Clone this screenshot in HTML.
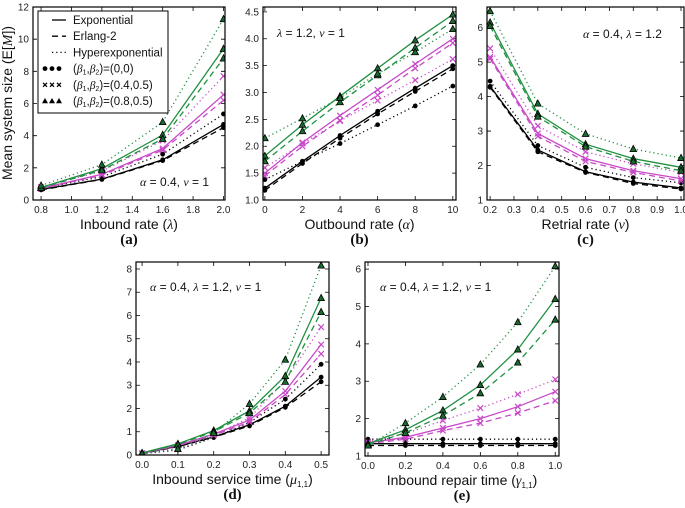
<!DOCTYPE html>
<html><head><meta charset="utf-8"><style>
html,body{margin:0;padding:0;background:#fff;}
svg{display:block;font-family:"Liberation Sans",sans-serif;}
</style></head><body>
<svg id="fig" width="685" height="508" viewBox="0 0 685 508" xmlns="http://www.w3.org/2000/svg"></svg>
<script>
// ---- data (rows: beta configs (0,0), (0.4,0.5), (0.8,0.5)) ----
const aX = [0.8, 1.2, 1.6, 2.0];
const aExp = [[0.65,1.3,2.5,4.7],[0.72,1.6,3.2,6.55],[0.78,1.95,4.05,9.4]];
const aErl = [[0.63,1.28,2.45,4.5],[0.7,1.55,3.1,6.2],[0.75,1.85,3.8,8.8]];
const aHyp = [[0.72,1.45,2.85,5.35],[0.8,1.8,3.7,7.7],[0.9,2.2,4.85,11.25]];
const bX = [0, 2, 4, 6, 8, 10];
const bExp = [[1.22,1.72,2.2,2.65,3.08,3.5],[1.5,2.07,2.57,3.05,3.53,4.0],[1.82,2.4,2.93,3.45,3.97,4.45]];
const bErl = [[1.18,1.68,2.15,2.6,3.02,3.44],[1.45,2.0,2.48,2.95,3.45,3.92],[1.72,2.28,2.82,3.32,3.83,4.33]];
const bHyp = [[1.38,1.72,2.05,2.4,2.75,3.12],[1.6,2.05,2.47,2.85,3.23,3.62],[2.15,2.52,2.9,3.35,3.75,4.18]];
const cX = [0.2, 0.4, 0.6, 0.8, 1.0];
const cExp = [[4.3,2.45,1.82,1.52,1.35],[5.15,2.93,2.2,1.85,1.62],[6.15,3.5,2.62,2.2,1.95]];
const cErl = [[4.27,2.4,1.8,1.48,1.32],[5.1,2.85,2.12,1.8,1.55],[6.05,3.42,2.55,2.12,1.85]];
const cHyp = [[4.45,2.58,1.95,1.65,1.5],[5.4,3.15,2.4,2.05,1.8],[6.48,3.8,2.92,2.48,2.22]];
const dX = [0, 0.1, 0.2, 0.3, 0.4, 0.5];
const dExp = [[0.08,0.38,0.78,1.3,2.1,3.35],[0.08,0.42,0.9,1.5,2.75,4.75],[0.09,0.48,1.05,1.9,3.4,6.75]];
const dErl = [[0.06,0.36,0.76,1.25,2.05,3.15],[0.07,0.4,0.85,1.42,2.6,4.35],[0.08,0.45,1.0,1.8,3.15,6.15]];
const dHyp = [[0.05,0.22,0.75,1.4,2.4,3.9],[0.06,0.25,0.85,1.6,3.2,5.5],[0.06,0.26,0.95,2.2,4.1,8.15]];
const eX = [0, 0.2, 0.4, 0.6, 0.8, 1.0];
const eExp = [[1.33,1.33,1.33,1.33,1.33,1.33],[1.35,1.5,1.75,2.0,2.32,2.72],[1.33,1.7,2.22,2.9,3.85,5.2]];
const eErl = [[1.28,1.28,1.28,1.28,1.28,1.28],[1.33,1.45,1.68,1.88,2.15,2.48],[1.3,1.62,2.08,2.68,3.5,4.65]];
const eHyp = [[1.45,1.45,1.45,1.45,1.45,1.45],[1.38,1.6,1.95,2.28,2.65,3.05],[1.28,1.88,2.58,3.45,4.58,6.08]];
const aXTicks = [0.8,1.0,1.2,1.4,1.6,1.8,2.0], aYTicks = [0,2,4,6,8,10,12];
const bXTicks = [0,2,4,6,8,10], bYTicks = [1.0,1.5,2.0,2.5,3.0,3.5,4.0,4.5];
const cXTicks = [0.2,0.3,0.4,0.5,0.6,0.7,0.8,0.9,1.0], cYTicks = [1,2,3,4,5,6];
const dXTicks = [0.0,0.1,0.2,0.3,0.4,0.5], dYTicks = [0,1,2,3,4,5,6,7,8];
const eXTicks = [0.0,0.2,0.4,0.6,0.8,1.0], eYTicks = [1,2,3,4,5,6];

const NS = "http://www.w3.org/2000/svg";
const svg = document.getElementById('fig');
const COLORS = ['#000000', '#c848c8', '#1f9040'];
const DASH = {exp: null, erl: '6,4', hyp: '1.2,3'};
function mk(tag, attrs, parent) {
  const el = document.createElementNS(NS, tag);
  for (const k in attrs) el.setAttribute(k, attrs[k]);
  (parent || svg).appendChild(el);
  return el;
}
function panel(id, box, xd, yd, xs, exp, erl, hyp, xt, yt, xdec, ydec, xlabel, cap, note, noteX, noteY) {
  const g = mk('g', {});
  
  
  const sx = v => box.L + (v - xd[0]) / (xd[1] - xd[0]) * (box.R - box.L);
  const sy = v => box.B - (v - yd[0]) / (yd[1] - yd[0]) * (box.B - box.T);
  xt.forEach(t => {
    const x = sx(t);
    const tk = mk('path', {d: `M${x},${box.B}v-4M${x},${box.T}v4`, stroke: '#000', 'stroke-width': 0.8}, g);
    
    
    const lb = mk('text', {x: x, y: box.B + 13, 'font-size': 10, 'text-anchor': 'middle', fill: '#222'}, g);
    lb.textContent = t.toFixed(xdec);
    
    
  });
  yt.forEach(t => {
    const y = sy(t);
    const tk = mk('path', {d: `M${box.L},${y}h4M${box.R},${y}h-4`, stroke: '#000', 'stroke-width': 0.8}, g);
    
    
    const lb = mk('text', {x: box.L - 4, y: y + 3.5, 'font-size': 10, 'text-anchor': 'end', fill: '#222'}, g);
    lb.textContent = t.toFixed(ydec);
    
    
  });
  const clipId = 'clip' + id;
  const cp = mk('clipPath', {id: clipId}, g);
  mk('rect', {x: box.L, y: box.T, width: box.R - box.L, height: box.B - box.T}, cp);
  const plot = mk('g', {'clip-path': `url(#${clipId})`}, g);
  const sets = [['exp', exp], ['erl', erl], ['hyp', hyp]];
  for (let c = 0; c < 3; c++) {
    sets.forEach(([k, arr]) => {
      const d = arr[c].map((v, i) => (i ? 'L' : 'M') + sx(xs[i]).toFixed(1) + ',' + sy(v).toFixed(1)).join('');
      const a = {d: d, fill: 'none', stroke: COLORS[c], 'stroke-width': 1.3};
      if (DASH[k]) a['stroke-dasharray'] = DASH[k];
      const p = mk('path', a, plot);
      
      
      arr[c].forEach((v, i) => {
        const x = sx(xs[i]), y = sy(v);
        let m;
        if (c === 0) m = mk('circle', {cx: x, cy: y, r: 2.4, fill: '#000'}, plot);
        else if (c === 1) m = mk('path', {d: `M${x-2.8},${y-2.8}L${x+2.8},${y+2.8}M${x-2.8},${y+2.8}L${x+2.8},${y-2.8}`, stroke: COLORS[1], 'stroke-width': 1.2}, plot);
        else m = mk('path', {d: `M${x},${y-3.6}L${x+3.3},${y+2.6}L${x-3.3},${y+2.6}Z`, fill: '#1a6a30', stroke: '#000', 'stroke-width': 0.8}, plot);
        
        
      });
    });
  }
  const fr = mk('rect', {x: box.L, y: box.T, width: box.R - box.L, height: box.B - box.T, fill: 'none', stroke: '#000', 'stroke-width': 1.2}, g);
  
  
  const xl = mk('text', {x: (box.L + box.R) / 2, y: box.B + 29, 'font-size': 14, 'text-anchor': 'middle', fill: '#111'}, g);
  xl.innerHTML = xlabel;
  
  
  const cp2 = mk('text', {x: (box.L + box.R) / 2, y: box.B + 44, 'font-size': 15, 'font-weight': 'bold', 'text-anchor': 'middle', 'font-family': '"Liberation Serif",serif', fill: '#111'}, g);
  cp2.textContent = cap;
  
  
  const nt = mk('text', {x: noteX, y: noteY, 'font-size': 12, fill: '#111'}, g);
  nt.innerHTML = note;
  
  
}
const G = s => `<tspan font-family="Liberation Serif,serif" font-style="italic">${s}</tspan>`;
panel('a', {L:33,R:225,T:7,B:200}, [0.747,2.01], [0,12], aX, aExp, aErl, aHyp, aXTicks, aYTicks, 1, 0,
  `Inbound rate (${G('λ')})`, '(a)', `${G('α')} = 0.4, ${G('ν')} = 1`, 140, 186);
panel('b', {L:263,R:456,T:7,B:200}, [-0.1,10.17], [1,4.59], bX, bExp, bErl, bHyp, bXTicks, bYTicks, 0, 1,
  `Outbound rate (${G('α')})`, '(b)', `${G('λ')} = 1.2, ${G('ν')} = 1`, 277, 37);
panel('c', {L:487,R:684,T:7,B:200}, [0.187,1.0125], [1,6.6], cX, cExp, cErl, cHyp, cXTicks, cYTicks, 1, 0,
  `Retrial rate (${G('ν')})`, '(c)', `${G('α')} = 0.4, ${G('λ')} = 1.2`, 583, 38);
panel('d', {L:136,R:329,T:262,B:455}, [-0.017,0.522], [0,8.3], dX, dExp, dErl, dHyp, dXTicks, dYTicks, 1, 0,
  `Inbound service time (${G('μ')}<tspan font-size="8" dy="3">1,1</tspan><tspan dy="-3">)</tspan>`, '(d)', `${G('α')} = 0.4, ${G('λ')} = 1.2, ${G('ν')} = 1`, 150, 291);
panel('e', {L:365,R:559,T:262,B:456}, [-0.016,1.02], [1,6.19], eX, eExp, eErl, eHyp, eXTicks, eYTicks, 1, 0,
  `Inbound repair time (${G('γ')}<tspan font-size="8" dy="3">1,1</tspan><tspan dy="-3">)</tspan>`, '(e)', `${G('α')} = 0.4, ${G('λ')} = 1.2, ${G('ν')} = 1`, 380, 291);

const yt = mk('text', {x: 0, y: 0, 'font-size': 14, 'text-anchor': 'middle', fill: '#111', transform: 'translate(12,103) rotate(-90)'});
yt.innerHTML = `Mean system size (E[${G('M')}])`;



const lg = mk('g', {});


mk('rect', {x: 38, y: 11, width: 130, height: 102, fill: '#fff', stroke: '#000', 'stroke-width': 1}, lg);
const legRows = [
  ['line', null, 'Exponential'], ['line', '6,4', 'Erlang-2'], ['line', '1.2,3', 'Hyperexponential'],
  ['m0', null, `(${G('β')}<tspan font-size="7" dy="2">1</tspan><tspan dy="-2">,</tspan>${G('β')}<tspan font-size="7" dy="2">2</tspan><tspan dy="-2">)=(0,0)</tspan>`],
  ['m1', null, `(${G('β')}<tspan font-size="7" dy="2">1</tspan><tspan dy="-2">,</tspan>${G('β')}<tspan font-size="7" dy="2">2</tspan><tspan dy="-2">)=(0.4,0.5)</tspan>`],
  ['m2', null, `(${G('β')}<tspan font-size="7" dy="2">1</tspan><tspan dy="-2">,</tspan>${G('β')}<tspan font-size="7" dy="2">2</tspan><tspan dy="-2">)=(0.8,0.5)</tspan>`]
];
legRows.forEach((r, i) => {
  const y = 20 + i * 16.2;
  const e = mk('g', {}, lg);
  
  
  if (r[0] === 'line') {
    const a = {d: `M52,${y}H66`, stroke: '#000', 'stroke-width': 1.3};
    if (r[1]) a['stroke-dasharray'] = r[1];
    mk('path', a, e);
  } else {
    [45, 52, 59].forEach(x => {
      if (r[0] === 'm0') mk('circle', {cx: x, cy: y, r: 2.4, fill: '#000'}, e);
      else if (r[0] === 'm1') mk('path', {d: `M${x-2},${y-2}L${x+2},${y+2}M${x-2},${y+2}L${x+2},${y-2}`, stroke: '#000', 'stroke-width': 1.2}, e);
      else mk('path', {d: `M${x},${y-3}L${x+3},${y+2.3}L${x-3},${y+2.3}Z`, fill: '#000'}, e);
    });
  }
  const t = mk('text', {x: 73, y: y + 4, 'font-size': 11.5, fill: '#111'}, e);
  t.innerHTML = r[2];
});
</script>
</body></html>
